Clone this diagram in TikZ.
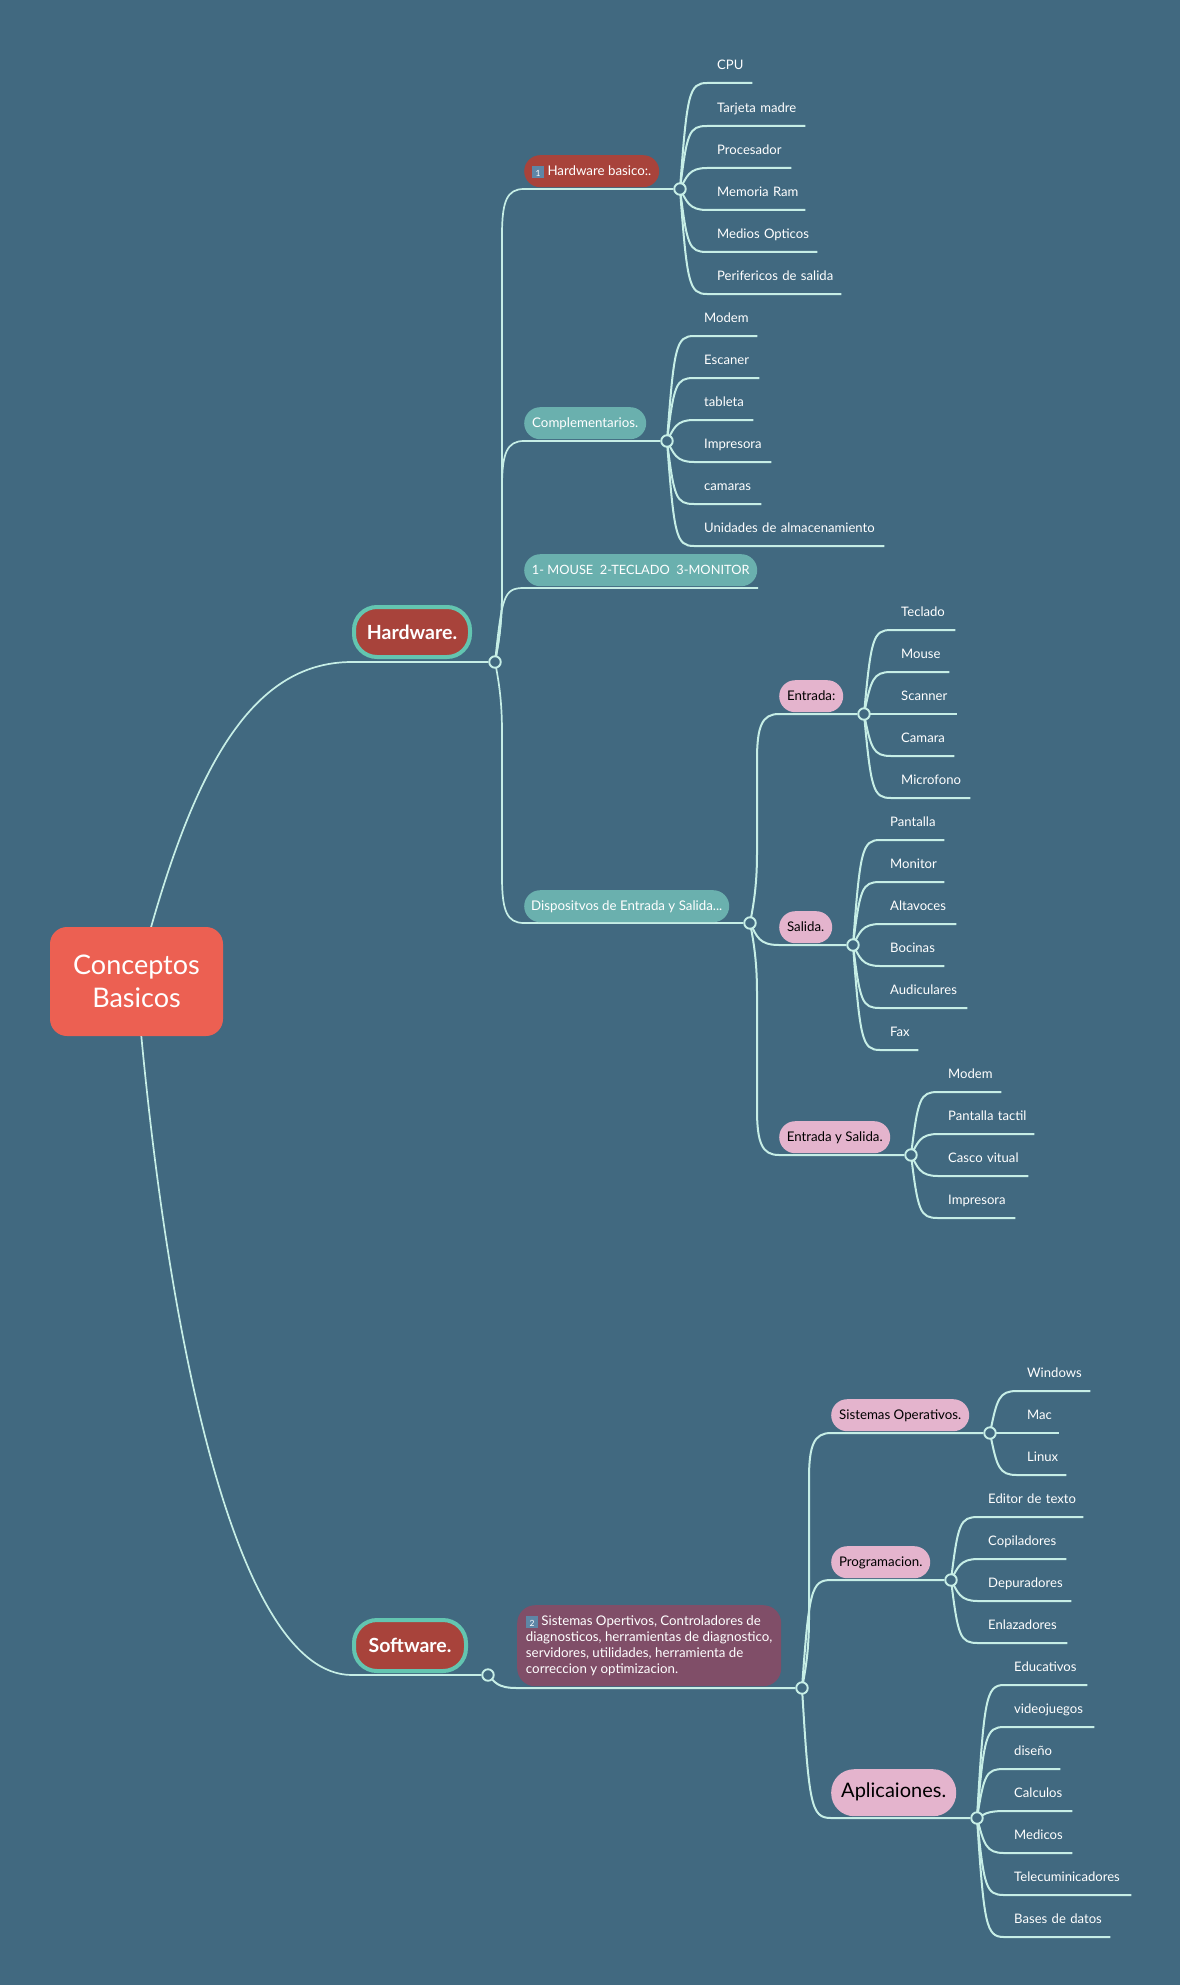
\documentclass[tikz,border=0pt]{standalone}
\usepackage{fontspec}
\setmainfont{Lato}
\usepackage{tikz}
\usetikzlibrary{calc,backgrounds}
\definecolor{slate}{RGB}{65,105,128}
\definecolor{mint}{RGB}{198,238,230}
\definecolor{coral}{RGB}{236,96,82}
\definecolor{brick}{RGB}{168,67,59}
\definecolor{teal}{RGB}{106,176,174}
\definecolor{rim}{RGB}{99,197,176}
\definecolor{rose}{RGB}{228,180,205}
\definecolor{plum}{RGB}{128,78,104}
\definecolor{keyblue}{RGB}{94,134,166}
\tikzset{
	x=1pt, y=-1pt,
	hub/.style={circle, draw=mint, fill=slate, line width=1.9pt, minimum size=11.5pt, inner sep=0pt},
	bough/.style={draw=mint, line width=2pt},
	limb/.style={draw=mint, line width=1.7pt},
	leafbox/.style={anchor=south west, inner xsep=10pt, inner ysep=0pt, align=left, text=white, minimum height=33pt, text height=10pt, text depth=3pt, font=\fontsize{13.1}{16}\selectfont},
	pill/.style={anchor=north west, inner sep=0pt, rounded corners=16pt, minimum height=32pt, text=white, text height=10pt, text depth=2pt, font=\fontsize{13.3}{16}\selectfont},
	redpill/.style={pill, fill=brick},
	tealpill/.style={pill, fill=teal},
	rosepill/.style={pill, fill=rose, text=black},
	mainpill/.style={anchor=north west, inner sep=0pt, fill=brick, draw=rim, line width=4pt, rounded corners=23pt, text=white, font=\fontsize{19.5}{22}\selectfont\bfseries}
}
\def\keycap#1{\raisebox{-1.5pt}{\fboxsep=0pt\colorbox{keyblue}{\makebox[12pt]{\rule[-1pt]{0pt}{12pt}\fontsize{8.5}{8}\selectfont #1}}}}
\def\bough[#1]#2#3#4{\begin{pgfonlayer}{background}\draw[#1] let \p1=(#2), \p2=(#3), \n1={min(.9,.4+abs(\y2-\y1)/100)} in (\p1) .. controls ({\x1+7pt},{\y1+\n1*(\y2-\y1)}) and ({\x1+9pt},\y2) .. (\p2) -- #4;\end{pgfonlayer}}
\def\farbough[#1]#2#3#4{\begin{pgfonlayer}{background}\draw[#1] let \p1=(#2), \p2=(#3), \n2={(\y2>\y1)?1:-1} in (\p1) .. controls ({\x1+4pt},{\y1+\n2*20pt}) and ({\x1+7pt},{\y1+\n2*40pt}) .. ({\x1+7pt},{\y1+\n2*70pt}) -- ({\x1+7pt},{\y2-\n2*46pt}) .. controls ({\x1+7pt},{\y2-\n2*12pt}) and ({\x1+12pt},\y2) .. (\p2) -- #4;\end{pgfonlayer}}
\def\leaf#1#2(#3,#4)#5#6{\pgfmathsetmacro{\leafw}{#5-#3-20}\node[leafbox, text width=\leafw pt] (#1) at (#3,#4) {\mbox{#6}};\bough[bough]{#2}{#1.south west}{(#1.south east)}}

\begin{document}
\begin{tikzpicture}
			%%%%% START %%%%%
			\useasboundingbox (0,0) rectangle (1180,1985);
			\begin{pgfonlayer}{background}
			\fill[slate] (0,0) rectangle (1180,1985);
			\end{pgfonlayer}
			
			\node[anchor=center, fill=coral, rounded corners=17pt, minimum width=173pt, minimum height=109pt, align=center, text=white, font=\fontsize{27}{33}\selectfont] (root) at (136.5,981.5) {Conceptos\\Basicos};
			
			\node[mainpill, minimum width=116pt, minimum height=50pt] (nHard) at (352,605) {Hardware.};
			\node[hub] (hHard) at (495,662) {};
			\node[mainpill, minimum width=112pt, minimum height=51pt] (nSoft) at (352,1618) {Software.};
			\node[hub] (hSoft) at (488,1675) {};
			
			\begin{pgfonlayer}{background}
			\draw[limb] (root.center) .. controls (190,770) and (250,662) .. (nHard.west |- hHard) -- (hHard);
			\draw[limb] (root.center) .. controls (165,1330) and (235,1675) .. (nSoft.west |- hSoft) -- (hSoft);
			\end{pgfonlayer}
			
			% hardware basico
			\node[redpill, minimum width=135pt] (pBase) at (524,155) {\keycap{1} Hardware basico:.};
			\node[hub] (hBase) at (680,189) {};
			\farbough[limb]{hHard}{pBase.west |- hBase}{(hBase)}
			\leaf{lCpu}{hBase}(707,83){752}{CPU}
			\leaf{lMadre}{hBase}(707,126){805}{Tarjeta madre}
			\leaf{lProc}{hBase}(707,168){791}{Procesador}
			\leaf{lRam}{hBase}(707,210){805}{Memoria Ram}
			\leaf{lOpti}{hBase}(707,252){817}{Medios Opticos}
			\leaf{lPeri}{hBase}(707,294){841}{Perifericos de salida}
			
			% complementarios
			\node[tealpill, minimum width=122pt] (pComp) at (524,407) {Complementarios.};
			\node[hub] (hComp) at (667,441) {};
			\farbough[limb]{hHard}{pComp.west |- hComp}{(hComp)}
			\leaf{lModem}{hComp}(694,336){757}{Modem}
			\leaf{lEsca}{hComp}(694,378){759}{Escaner}
			\leaf{lTabl}{hComp}(694,420){753}{tableta}
			\leaf{lImpr}{hComp}(694,462){771}{Impresora}
			\leaf{lCama}{hComp}(694,504){761}{camaras}
			\leaf{lUnid}{hComp}(694,546){884}{Unidades de almacenamiento}
			
			% perifericos
			\node[tealpill, minimum width=233pt, font=\fontsize{12.8}{16}\selectfont] (pMouse) at (524,554) {1- MOUSE\ \ 2-TECLADO\ \ 3-MONITOR};
			\coordinate (cMouse) at (524,588);
			\coordinate (cMouseEnd) at (758,588);
			\bough[limb]{hHard}{cMouse}{(cMouseEnd)}
			
			% dispositivos
			\node[tealpill, minimum width=205pt] (pDisp) at (524,890) {Dispositvos de Entrada y Salida...};
			\node[hub] (hDisp) at (750,923) {};
			\farbough[limb]{hHard}{pDisp.west |- hDisp}{(hDisp)}
			
			\node[rosepill, minimum width=64pt] (pEnt) at (779,680) {Entrada:};
			\node[hub] (hEnt) at (864,714) {};
			\farbough[bough]{hDisp}{pEnt.west |- hEnt}{(hEnt)}
			\leaf{lTecl}{hEnt}(891,630){955}{Teclado}
			\leaf{lMous}{hEnt}(891,672){949}{Mouse}
			\leaf{lScan}{hEnt}(891,714){957}{Scanner}
			\leaf{lCamr}{hEnt}(891,756){954}{Camara}
			\leaf{lMicr}{hEnt}(891,798){970}{Microfono}
			
			\node[rosepill, minimum width=53pt] (pSal) at (779,911) {Salida.};
			\node[hub] (hSal) at (853,945) {};
			\bough[bough]{hDisp}{pSal.west |- hSal}{(hSal)}
			\leaf{lPant}{hSal}(880,840){944}{Pantalla}
			\leaf{lMoni}{hSal}(880,882){944}{Monitor}
			\leaf{lAlta}{hSal}(880,924){956}{Altavoces}
			\leaf{lBoci}{hSal}(880,966){944}{Bocinas}
			\leaf{lAudi}{hSal}(880,1008){967}{Audiculares}
			\leaf{lFax}{hSal}(880,1050){918}{Fax}
			
			\node[rosepill, minimum width=111pt] (pEys) at (779,1121) {Entrada y Salida.};
			\node[hub] (hEys) at (911,1155) {};
			\farbough[bough]{hDisp}{pEys.west |- hEys}{(hEys)}
			\leaf{lMode}{hEys}(938,1092){1001}{Modem}
			\leaf{lTact}{hEys}(938,1134){1034}{Pantalla tactil}
			\leaf{lCasc}{hEys}(938,1176){1028}{Casco vitual}
			\leaf{lImpe}{hEys}(938,1218){1015}{Impresora}
			
			% software
			\node[anchor=north west, fill=plum, rounded corners=18pt, inner sep=0pt, minimum width=264pt, minimum height=81pt, align=left, text=white, font=\fontsize{13.3}{16.3}\selectfont] (pProg) at (517,1605) {\keycap{2} Sistemas Opertivos, Controladores de\\diagnosticos, herramientas de diagnostico,\\servidores, utilidades, herramienta de\\correccion y optimizacion.};
			\node[hub] (hProg) at (802,1688) {};
			\bough[bough]{hSoft}{pProg.west |- hProg}{(hProg)}
			
			\node[rosepill, minimum width=138pt] (pSist) at (831,1399) {Sistemas Operativos.};
			\node[hub] (hSist) at (990,1433) {};
			\farbough[bough]{hProg}{pSist.west |- hSist}{(hSist)}
			\leaf{lWind}{hSist}(1017,1391){1090}{Windows}
			\leaf{lMac}{hSist}(1017,1433){1059}{Mac}
			\leaf{lLinu}{hSist}(1017,1475){1066}{Linux}
			
			\node[rosepill, minimum width=99pt] (pPrgm) at (831,1546) {Programacion.};
			\node[hub] (hPrgm) at (951,1580) {};
			\bough[bough]{hProg}{pPrgm.west |- hPrgm}{(hPrgm)}
			\leaf{lEdit}{hPrgm}(978,1517){1083}{Editor de texto}
			\leaf{lCopi}{hPrgm}(978,1559){1066}{Copiladores}
			\leaf{lDepu}{hPrgm}(978,1601){1071}{Depuradores}
			\leaf{lEnla}{hPrgm}(978,1643){1067}{Enlazadores}
			
			\node[rosepill, minimum width=125pt, minimum height=47pt, rounded corners=23pt, text height=14pt, text depth=4pt, font=\fontsize{20}{24}\selectfont] (pApli) at (831,1769) {Aplicaiones.};
			\node[hub] (hApli) at (977,1818) {};
			\bough[bough]{hProg}{pApli.west |- hApli}{(hApli)}
			\leaf{lEduc}{hApli}(1004,1685){1087}{Educativos}
			\leaf{lVide}{hApli}(1004,1727){1094}{videojuegos}
			\leaf{lDise}{hApli}(1004,1769){1060}{diseño}
			\leaf{lCalc}{hApli}(1004,1811){1072}{Calculos}
			\leaf{lMedi}{hApli}(1004,1853){1072}{Medicos}
			\leaf{lTele}{hApli}(1004,1895){1131}{Telecuminicadores}
			\leaf{lBase}{hApli}(1004,1937){1110}{Bases de datos}
			%%%%% END %%%%%
\end{tikzpicture}
\end{document}
